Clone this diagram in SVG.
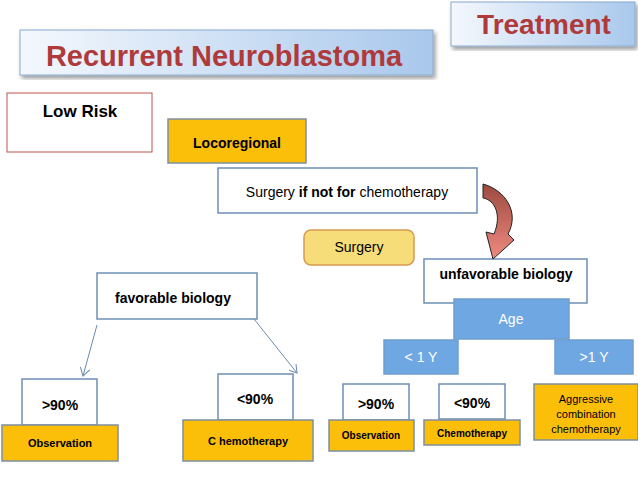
<svg xmlns="http://www.w3.org/2000/svg" width="638" height="479" viewBox="0 0 638 479">
<defs>
<linearGradient id="tg" x1="0" y1="0" x2="1" y2="0"><stop offset="0" stop-color="#f4f8fd"/><stop offset="1" stop-color="#a9c8ec"/></linearGradient>
<linearGradient id="ca" x1="0" y1="0" x2="0" y2="1"><stop offset="0" stop-color="#9c4a40"/><stop offset="1" stop-color="#f08a80"/></linearGradient>
<marker id="ah" markerWidth="10" markerHeight="10" refX="8" refY="5" orient="auto" markerUnits="userSpaceOnUse"><path d="M0,0 L8,5 L0,10" fill="none" stroke="#6a8ab0" stroke-width="1"/></marker>
<filter id="sh"><feDropShadow dx="2" dy="3" stdDeviation="2" flood-opacity="0.4"/></filter>
</defs>
<style>
text{font-family:"Liberation Sans",Arial,sans-serif;}
.w{fill:#fff;stroke:#6d8fb5;stroke-width:1.5}
.o{fill:#fbbf0a;stroke:#7d8fa0;stroke-width:1.5}
.b{fill:#6fa7e3;stroke:#6f9fd0;stroke-width:1.5}
.t{font-weight:bold;fill:#000;text-anchor:middle}
.n{fill:#000;text-anchor:middle}
.bt{fill:#fff;text-anchor:middle;font-size:14px}
.h{font-weight:bold;fill:#b03a3a;text-anchor:middle}
</style>
<rect width="638" height="479" fill="#fff"/>
<g id="title"><rect x="20" y="30" width="413" height="45" fill="url(#tg)" stroke="#8aaad0" filter="url(#sh)"/><text x="224" y="66" class="h" font-size="29">Recurrent Neuroblastoma</text></g>
<g id="treatment"><rect x="451" y="2" width="184" height="44" fill="url(#tg)" stroke="#8aaad0" filter="url(#sh)"/><text x="544" y="34" class="h" font-size="28">Treatment</text></g>
<g id="lowrisk"><rect x="7" y="93" width="145" height="59" fill="#fff" stroke="#c0504d" stroke-width="1"/><text x="80" y="117" class="t" font-size="17">Low Risk</text></g>
<g id="loco"><rect x="168" y="119" width="138" height="44" class="o"/><text x="237" y="148" class="t" font-size="14">Locoregional</text></g>
<g id="surgif"><rect x="218" y="168" width="259" height="45" class="w"/><text x="347" y="197" class="n" font-size="14">Surgery <tspan font-weight="bold">if not for</tspan> chemotherapy</text></g>
<g id="surgery"><rect x="304" y="230" width="110" height="35" rx="7" fill="#f7dc7a" stroke="#d89a50" stroke-width="1.5"/><text x="359" y="252" class="n" font-size="14">Surgery</text></g>
<g id="unfav"><rect x="424" y="259" width="163" height="44" class="w"/><text x="506" y="279" class="t" font-size="14">unfavorable biology</text></g>
<g id="age"><rect x="454" y="299" width="115" height="40" class="b"/><text x="511" y="324" class="bt">Age</text></g>
<g id="lt1"><rect x="384" y="340" width="74" height="34" class="b"/><text x="421" y="362" class="bt">&lt; 1 Y</text></g>
<g id="gt1"><rect x="555" y="340" width="78" height="34" class="b"/><text x="594" y="362" class="bt">&gt;1 Y</text></g>
<g id="fav"><rect x="97" y="273" width="160" height="46" class="w"/><text x="173" y="303" class="t" font-size="14">favorable biology</text></g>
<g id="l90a"><rect x="22" y="379" width="75" height="46" class="w"/><text x="60" y="410" class="t" font-size="14">&gt;90%</text></g>
<g id="obsA"><rect x="2" y="425" width="116" height="36" class="o"/><text x="60" y="447" class="t" font-size="11">Observation</text></g>
<g id="l90b"><rect x="218" y="374" width="75" height="46" class="w"/><text x="255" y="404" class="t" font-size="14">&lt;90%</text></g>
<g id="chemA"><rect x="183" y="420" width="130" height="41" class="o"/><text x="248" y="445" class="t" font-size="11">C hemotherapy</text></g>
<g id="r90a"><rect x="343" y="384" width="66" height="36" class="w"/><text x="376" y="409" class="t" font-size="14">&gt;90%</text></g>
<g id="obsB"><rect x="329" y="420" width="85" height="31" class="o"/><text x="371" y="439" class="t" font-size="10">Observation</text></g>
<g id="r90b"><rect x="439" y="384" width="66" height="35" class="w"/><text x="472" y="408" class="t" font-size="14">&lt;90%</text></g>
<g id="chemB"><rect x="424" y="420" width="96" height="25" class="o"/><text x="472" y="437" class="t" font-size="10">Chemotherapy</text></g>
<g id="aggr"><rect x="534" y="384" width="104" height="56" class="o"/><text class="n" font-size="11"><tspan x="586" y="403">Aggressive</tspan><tspan x="586" y="418">combination</tspan><tspan x="586" y="433">chemotherapy</tspan></text></g>
<g id="connectors">
<line x1="97" y1="325" x2="83" y2="376" stroke="#6a8ab0" marker-end="url(#ah)"/>
<line x1="254" y1="319" x2="297" y2="373" stroke="#6a8ab0" marker-end="url(#ah)"/>
<path d="M483,184 C505,190 520,212 508,234 L514,240 L493,259 L486,232 L494,234 C502,215 495,200 483,198 Z" fill="url(#ca)" stroke="#222" stroke-width="1"/>
</g>
</svg>
